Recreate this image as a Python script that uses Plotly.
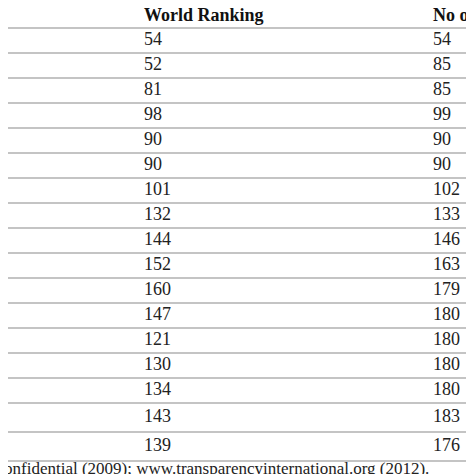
import plotly.graph_objects as go

headers = ["World Ranking", "No of"]
world_ranking = [54, 52, 81, 98, 90, 90, 101, 132, 144, 152, 160, 147, 121, 130, 134, 143, 139]
no_of = [54, 85, 85, 99, 90, 90, 102, 133, 146, 163, 179, 180, 180, 180, 180, 183, 176]
footer = "onfidential (2009); www.transparencyinternational.org (2012)."

# layout (pixel units on a 474x474 canvas)
boundaries = [20 + 25 * i for i in range(16)] + [424, 453]
boundaries = sorted(set(boundaries))
col_x = [136, 425]
font = dict(family="Liberation Serif", size=18, color="#222")

fig = go.Figure()
for y in boundaries:
    fig.add_trace(go.Scatter(x=[0, 474], y=[y, y], mode="lines",
                             line=dict(color="#b0b0b0", width=1.5), hoverinfo="skip"))
centers = [(boundaries[i] + boundaries[i + 1]) / 2 for i in range(len(boundaries) - 1)]
fig.add_trace(go.Scatter(x=[col_x[0]] * len(world_ranking), y=centers,
                         text=[str(v) for v in world_ranking], mode="text",
                         textposition="middle right", textfont=font))
fig.add_trace(go.Scatter(x=[col_x[1]] * len(no_of), y=centers,
                         text=[str(v) for v in no_of], mode="text",
                         textposition="middle right", textfont=font))
fig.add_trace(go.Scatter(x=col_x, y=[8, 8], text=headers, mode="text",
                         textposition="middle right",
                         textfont=dict(family="Liberation Serif", size=18, color="#111", weight="bold")))
fig.add_trace(go.Scatter(x=[-4], y=[462], text=[footer], mode="text",
                         textposition="middle right", textfont=dict(family="Liberation Serif", size=17, color="#222")))

fig.update_layout(width=474, height=474, margin=dict(l=0, r=0, t=0, b=0),
                  showlegend=False, plot_bgcolor="white", paper_bgcolor="white",
                  xaxis=dict(range=[0, 474], visible=False, fixedrange=True),
                  yaxis=dict(range=[474, 0], visible=False, fixedrange=True))
fig.write_html("out.html")
